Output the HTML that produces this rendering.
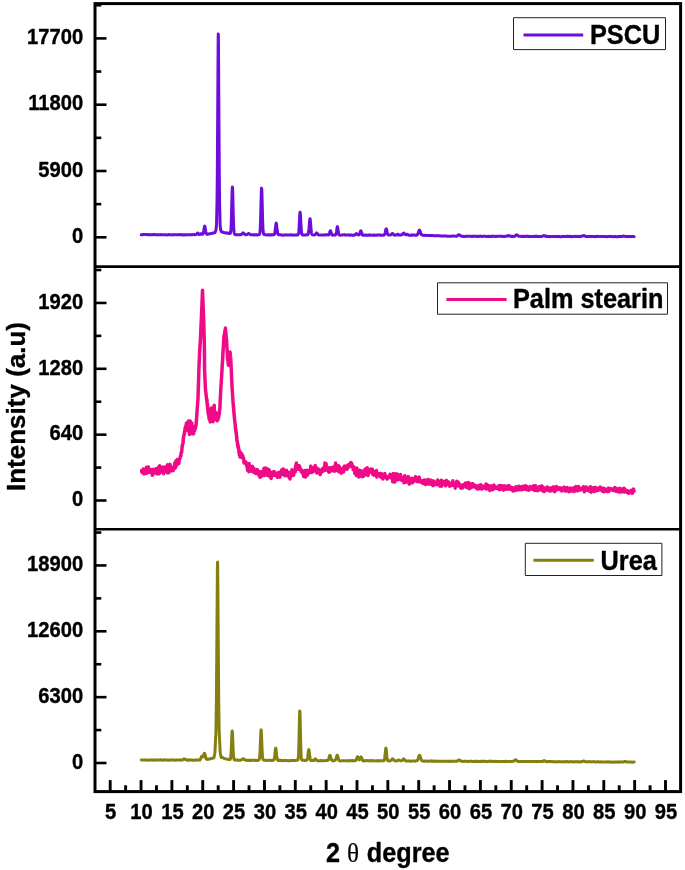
<!DOCTYPE html>
<html lang="en"><head><meta charset="utf-8"><title>XRD patterns</title>
<style>html,body{margin:0;padding:0;background:#fff;}svg{display:block}</style></head>
<body>
<svg width="685" height="870" viewBox="0 0 685 870" style="display:block">
<rect x="0" y="0" width="685" height="870" fill="#ffffff"/>
<polyline points="141.30,234.77 141.70,234.83 142.00,234.78 142.30,234.65 142.70,234.64 142.80,234.57 143.10,234.57 143.70,234.40 144.50,234.59 144.90,234.54 145.40,234.63 146.10,234.55 146.20,234.48 146.70,234.54 146.90,234.50 147.30,234.68 147.90,234.77 148.40,234.73 148.50,234.80 148.80,234.62 148.90,234.67 149.10,234.62 149.40,234.66 149.60,234.60 150.10,234.75 150.30,234.70 150.40,234.79 151.10,234.67 151.60,234.71 151.90,234.62 152.40,234.76 152.80,234.72 153.40,234.55 153.60,234.60 153.90,234.51 154.50,234.62 154.90,234.60 155.10,234.70 155.30,234.67 155.80,234.73 156.30,234.67 156.50,234.77 157.20,234.70 157.40,234.74 157.80,234.69 158.00,234.75 158.50,234.68 158.80,234.70 158.90,234.80 159.10,234.82 159.30,234.74 159.50,234.79 160.10,234.68 160.50,234.70 160.80,234.57 161.00,234.68 161.40,234.68 161.50,234.77 161.80,234.84 162.10,234.72 162.60,234.77 163.20,234.64 163.80,234.77 164.00,234.69 164.20,234.73 164.30,234.68 164.40,234.75 164.70,234.73 164.90,234.79 165.20,234.72 165.70,234.87 166.10,234.83 166.60,234.89 168.00,234.71 168.30,234.62 168.80,234.65 168.90,234.58 169.30,234.69 169.50,234.67 169.80,234.83 170.40,234.72 170.60,234.79 171.40,234.72 171.70,234.84 172.00,234.84 172.10,234.90 172.90,234.79 173.00,234.72 173.10,234.75 173.50,234.59 173.70,234.66 174.30,234.67 174.70,234.82 175.10,234.82 175.50,234.66 176.10,234.76 176.40,234.66 177.10,234.83 177.40,234.82 177.80,234.70 178.00,234.76 178.50,234.68 179.00,234.86 179.10,234.79 179.20,234.83 179.90,234.79 180.60,234.56 181.00,234.60 181.30,234.74 181.50,234.71 181.80,234.85 182.10,234.83 182.40,234.94 183.00,234.81 183.20,234.89 183.80,234.84 184.30,234.94 184.80,234.91 185.00,234.79 185.40,234.88 186.00,234.68 186.50,234.65 186.70,234.75 187.10,234.67 187.20,234.71 187.60,234.66 188.10,234.82 188.40,234.71 188.80,234.75 188.90,234.70 189.40,234.78 189.70,234.64 190.20,234.77 190.40,234.71 190.90,234.78 191.10,234.72 191.40,234.79 191.60,234.70 192.40,234.72 192.80,234.60 194.00,234.52 194.50,234.71 194.80,234.62 195.10,234.70 195.20,234.63 195.60,234.71 196.50,234.33 196.90,233.82 197.30,233.16 197.70,232.94 198.20,233.32 198.70,234.10 199.10,234.54 199.40,234.61 200.00,234.48 200.80,233.75 201.10,233.66 201.50,233.71 201.70,233.83 202.20,234.31 202.50,234.36 202.80,234.18 203.00,233.90 203.30,233.09 203.70,231.09 204.30,227.22 204.50,226.40 204.60,226.18 204.70,226.12 204.80,226.19 204.90,226.45 205.10,227.26 205.80,231.53 206.10,232.97 206.50,233.94 206.90,234.25 207.60,234.26 208.60,233.91 209.60,233.75 210.00,233.61 210.10,233.65 210.80,233.60 211.20,233.53 211.30,233.46 211.50,233.50 211.80,233.42 212.00,233.47 213.20,232.97 213.60,232.96 213.90,232.83 214.00,232.88 214.10,232.81 214.90,232.62 215.10,232.28 215.70,230.73 216.00,230.18 216.50,224.66 217.00,202.33 217.30,176.62 218.10,50.15 218.20,36.38 218.30,33.90 218.40,36.34 218.50,50.07 219.30,176.41 219.60,202.19 220.10,224.52 220.60,229.97 221.60,232.02 222.10,232.03 222.50,232.17 222.70,232.12 222.90,232.26 223.00,232.23 223.90,232.51 224.50,232.61 225.50,232.99 225.80,232.98 226.30,233.15 226.50,233.07 227.00,233.12 227.20,233.07 227.50,233.16 227.60,233.10 227.70,233.15 227.90,233.13 228.20,233.31 228.70,233.27 228.90,233.40 229.00,233.37 229.70,233.56 230.20,233.39 230.40,233.08 230.50,232.77 230.70,231.79 230.90,229.91 231.20,224.52 231.50,215.00 232.10,191.49 232.30,187.50 232.40,186.97 232.50,187.49 232.70,191.58 233.40,219.11 233.60,225.02 233.90,230.48 234.10,232.46 234.40,233.78 234.80,234.29 235.20,234.64 235.60,234.73 235.80,234.68 236.30,234.85 236.90,234.66 237.70,234.84 238.10,234.79 238.40,234.88 238.70,234.81 239.00,234.85 239.40,234.68 239.50,234.72 239.90,234.61 240.40,234.69 241.10,234.63 241.50,234.42 242.50,233.28 242.80,232.98 243.00,232.90 243.10,232.97 243.30,232.96 243.90,233.38 244.40,234.01 244.60,234.09 245.00,234.47 245.60,234.81 245.70,234.75 245.80,234.83 245.90,234.77 246.20,234.80 246.80,234.66 247.10,234.49 247.70,233.92 248.50,233.45 248.80,233.54 249.40,234.07 250.20,234.64 250.80,234.80 251.60,234.79 251.80,234.85 252.00,234.78 252.70,234.77 252.80,234.81 253.20,234.77 254.00,234.92 254.20,234.85 254.70,234.92 255.50,234.85 255.60,234.78 256.00,234.82 256.20,234.77 256.60,234.91 257.00,234.84 257.20,234.85 257.30,234.93 257.80,234.91 258.30,234.75 258.80,234.73 259.20,234.54 259.60,234.03 259.80,233.30 260.00,231.86 260.20,229.35 260.40,225.30 260.70,215.88 261.30,192.53 261.50,188.60 261.60,188.11 261.70,188.65 261.90,192.61 262.70,222.59 262.90,227.49 263.20,231.74 263.50,233.52 263.70,234.11 263.90,234.34 264.40,234.64 265.20,234.79 266.20,234.86 266.60,234.99 267.50,234.87 267.90,234.91 268.50,234.81 269.00,234.93 269.90,234.82 270.40,234.95 271.30,234.82 271.40,234.87 272.00,234.88 272.10,234.79 272.80,234.77 273.20,234.92 273.70,234.70 273.80,234.72 274.10,234.60 274.30,234.43 274.50,234.11 274.80,233.00 275.10,231.05 275.90,224.09 276.00,223.55 276.20,223.13 276.40,223.54 276.50,224.10 277.20,230.33 277.60,233.04 277.90,234.03 278.10,234.41 278.40,234.71 278.70,234.78 279.30,234.67 279.80,234.82 280.50,234.79 280.80,234.98 281.50,234.99 281.70,235.07 282.10,235.07 282.20,235.15 282.30,235.08 282.50,235.08 282.90,235.26 284.30,235.04 284.90,234.84 285.80,235.02 286.20,234.92 286.60,235.04 287.30,234.96 288.00,235.02 288.30,234.96 289.40,235.02 289.60,234.94 290.30,234.97 290.60,234.84 290.70,234.90 291.00,234.90 291.30,234.83 291.90,234.93 292.10,234.89 292.30,235.01 292.70,235.00 292.90,235.11 293.70,235.17 294.10,235.11 294.30,235.01 294.70,235.06 295.20,234.95 295.50,235.07 295.70,235.02 296.20,235.06 296.30,235.00 296.90,235.12 297.20,234.99 297.60,234.96 297.90,234.86 298.20,234.51 298.40,234.01 298.60,233.00 298.80,231.45 299.10,227.50 299.80,214.48 299.90,213.23 300.00,212.47 300.10,212.18 300.20,212.48 300.40,214.43 301.10,227.47 301.50,232.34 301.70,233.63 301.90,234.26 302.10,234.62 302.40,234.86 302.70,234.96 303.00,234.80 303.40,234.78 303.70,234.91 304.30,234.94 304.70,235.10 305.30,234.88 305.90,234.92 306.40,234.76 306.70,234.88 307.20,234.94 307.90,234.61 308.10,234.33 308.40,233.40 308.70,231.62 309.00,228.62 309.60,221.03 309.80,219.36 310.00,218.67 310.10,218.82 310.30,220.02 311.10,229.58 311.40,232.20 311.60,233.28 311.80,234.01 312.10,234.57 312.50,234.86 313.40,235.00 314.90,234.74 315.20,234.57 315.50,234.27 316.30,233.17 316.60,232.89 317.00,233.06 317.20,233.25 318.00,234.54 318.20,234.77 318.30,234.83 318.60,234.86 318.80,234.99 319.10,235.07 319.30,235.08 319.90,234.93 320.40,234.96 321.00,234.88 321.40,234.89 321.70,235.03 322.10,234.98 322.40,235.09 322.50,235.03 322.90,235.09 323.20,235.05 323.40,234.96 323.70,235.07 324.10,234.97 324.30,235.08 324.80,235.08 325.30,235.01 326.00,234.80 326.10,234.84 326.30,234.75 326.70,234.76 326.90,234.85 327.10,234.78 327.60,234.96 327.80,234.91 328.10,235.04 328.40,235.01 328.80,234.74 329.10,234.30 329.50,233.27 330.10,231.13 330.40,230.75 330.60,230.88 330.70,231.08 331.60,234.03 332.10,234.91 332.40,235.14 332.60,235.10 332.80,235.15 333.80,235.02 334.00,235.07 334.10,235.02 334.30,235.12 334.80,235.03 335.20,235.10 335.50,234.96 335.80,234.54 336.20,233.31 336.50,231.69 337.00,227.95 337.20,226.99 337.30,226.76 337.40,226.70 337.60,227.17 337.80,228.24 338.30,231.86 338.70,234.09 339.10,234.97 339.40,235.01 339.80,235.22 340.10,235.25 340.40,235.14 340.60,235.15 340.80,235.00 341.10,235.04 341.50,234.93 342.00,235.00 342.30,234.95 342.60,235.06 342.90,234.98 343.00,235.04 343.30,234.87 343.70,234.75 344.20,234.76 344.60,234.85 344.70,234.82 345.00,235.02 345.50,235.03 345.70,235.09 346.40,235.02 346.60,235.08 346.90,234.99 347.20,235.10 347.40,235.00 348.10,235.10 348.30,234.97 348.60,235.09 348.80,235.09 348.90,235.02 349.60,235.07 350.00,235.17 350.30,235.04 350.50,235.04 350.80,235.13 351.70,234.99 352.00,235.07 352.10,235.05 352.20,235.13 353.00,235.16 353.20,235.25 353.80,235.29 354.40,235.18 354.90,234.96 355.50,234.38 355.90,233.84 356.10,233.66 356.30,233.61 356.90,233.83 357.80,234.88 358.50,234.97 358.70,235.06 359.20,234.77 359.60,234.06 359.80,233.55 360.40,231.42 360.60,230.94 360.80,230.71 360.90,230.72 361.00,230.84 361.20,231.34 361.80,233.51 362.20,234.47 362.60,235.06 362.90,235.20 363.10,235.22 363.30,235.12 363.80,235.21 363.90,235.13 364.00,235.16 364.70,234.99 365.40,235.08 365.90,235.23 366.10,235.20 366.60,235.27 367.50,235.12 367.80,235.15 367.90,235.06 368.10,235.13 368.30,235.10 369.00,235.18 369.40,235.07 369.70,235.13 369.90,235.05 370.40,235.11 370.70,235.07 371.00,235.20 371.40,235.15 371.60,235.23 371.80,235.21 371.90,235.28 372.50,235.17 373.10,235.21 373.60,235.04 373.80,235.11 374.10,235.09 374.20,235.16 374.50,235.10 374.60,235.16 374.80,235.13 375.30,235.20 375.50,235.16 375.70,235.25 376.00,235.18 376.30,235.25 376.70,235.10 377.30,234.98 377.70,235.03 378.00,234.85 378.70,235.06 379.50,234.99 380.80,235.14 381.10,235.08 381.60,235.25 382.60,235.14 382.90,235.21 383.00,235.13 383.20,235.20 383.40,235.18 383.80,235.08 384.30,234.81 384.70,234.22 385.10,232.87 385.80,229.64 386.00,229.06 386.20,228.84 386.40,229.04 386.60,229.60 387.50,233.66 387.70,234.22 387.90,234.55 388.20,234.86 388.70,234.97 388.90,235.08 389.80,234.89 390.30,235.00 390.70,234.91 391.00,234.75 391.20,234.53 391.50,234.44 392.00,233.78 392.20,233.60 392.50,233.45 392.70,233.48 392.90,233.77 393.20,233.95 393.70,234.64 394.20,235.07 394.70,235.15 395.50,235.05 396.30,235.11 396.40,234.99 396.90,234.70 397.10,234.47 397.70,234.29 398.00,234.34 398.80,234.98 399.10,235.05 399.50,235.11 399.60,235.04 400.10,235.06 400.20,234.97 400.30,235.01 400.60,234.94 401.30,234.92 401.50,234.81 401.90,234.79 402.10,234.68 403.30,233.30 403.80,233.02 404.10,233.15 405.00,234.32 405.30,234.50 405.50,234.74 405.80,234.83 406.20,234.76 406.70,234.39 407.10,234.24 407.40,234.28 407.70,234.40 408.10,234.80 408.60,235.14 409.40,235.39 410.10,235.33 410.40,235.20 411.10,235.09 411.80,235.14 411.90,235.09 412.50,235.18 412.80,235.14 413.50,234.88 413.80,234.96 414.00,234.88 414.40,235.04 414.50,235.03 414.70,235.13 414.90,235.11 415.40,235.29 415.80,235.32 416.10,235.23 416.30,235.24 416.40,235.14 416.50,235.20 416.60,235.18 417.20,234.89 417.70,234.31 418.10,233.52 419.00,230.78 419.20,230.32 419.40,230.14 419.70,230.27 419.90,230.67 420.90,233.68 421.30,234.39 421.80,234.88 422.60,235.02 423.10,235.34 424.30,235.52 425.20,235.27 425.60,235.29 425.70,235.23 425.80,235.27 425.90,235.23 427.70,235.47 427.80,235.41 428.00,235.43 428.60,235.59 429.00,235.48 429.40,235.48 429.70,235.60 430.20,235.46 430.50,235.59 431.20,235.62 431.50,235.53 431.90,235.64 432.50,235.58 432.60,235.49 433.00,235.62 433.90,235.63 434.30,235.74 435.20,235.61 435.90,235.64 436.00,235.70 436.20,235.64 436.80,235.79 437.50,235.67 437.60,235.72 437.70,235.63 437.90,235.72 438.40,235.67 438.60,235.71 438.70,235.64 439.30,235.76 439.40,235.83 439.60,235.79 440.40,235.90 441.60,235.90 441.80,235.84 442.50,235.92 442.90,236.03 443.40,236.04 443.80,235.93 444.20,236.05 444.70,235.94 445.00,235.95 445.30,236.05 445.90,235.96 446.00,236.03 446.60,236.15 446.80,236.10 447.20,236.20 447.50,236.16 448.10,236.22 448.30,236.17 448.60,236.24 448.80,236.18 449.30,236.29 449.80,236.20 450.60,236.31 451.40,236.15 451.60,236.24 451.80,236.18 452.00,236.23 452.30,236.05 453.10,236.07 453.70,235.94 454.00,236.07 454.50,236.02 455.10,236.12 455.30,236.22 455.80,236.13 456.00,236.20 456.40,236.20 456.80,236.09 457.20,235.88 457.90,235.40 458.30,234.93 458.60,234.69 458.90,234.65 459.50,234.82 460.60,235.79 461.10,236.05 461.40,236.02 462.00,236.25 462.50,236.18 463.80,236.47 464.20,236.50 464.40,236.42 464.70,236.40 464.80,236.45 465.00,236.38 465.20,236.42 465.50,236.24 466.10,236.34 466.50,236.25 466.70,236.35 466.90,236.25 467.40,236.34 467.90,236.25 468.20,236.32 468.40,236.27 468.70,236.31 468.80,236.26 469.30,236.32 470.30,236.19 470.50,236.28 471.10,236.33 471.20,236.29 471.30,236.39 471.60,236.50 471.70,236.45 471.80,236.50 472.20,236.36 472.90,236.43 473.30,236.29 473.40,236.34 473.90,236.30 474.50,236.14 475.00,236.22 475.20,236.16 476.20,236.42 476.70,236.34 477.30,236.39 477.90,236.28 478.10,236.31 478.20,236.38 478.80,236.40 479.40,236.33 480.10,236.11 480.30,236.16 480.50,236.09 482.10,236.48 482.70,236.34 483.00,236.38 483.30,236.29 484.00,236.25 484.60,236.34 485.60,236.31 486.20,236.40 487.30,236.43 487.70,236.38 487.80,236.42 488.30,236.30 488.70,236.37 488.90,236.32 489.10,236.41 489.30,236.36 489.40,236.44 489.60,236.43 489.80,236.50 490.30,236.43 490.70,236.45 490.90,236.39 491.00,236.45 491.50,236.34 491.70,236.42 491.80,236.36 492.00,236.40 492.10,236.34 492.60,236.33 492.80,236.25 493.10,236.29 493.40,236.21 493.50,236.28 494.10,236.27 494.40,236.35 494.70,236.31 495.50,236.41 495.70,236.49 496.20,236.42 496.30,236.35 496.80,236.40 497.30,236.30 497.40,236.22 497.60,236.31 497.90,236.27 498.00,236.35 498.80,236.32 499.10,236.37 499.30,236.32 499.50,236.37 499.70,236.28 500.00,236.26 500.60,236.34 500.90,236.21 501.20,236.21 501.30,236.28 501.70,236.31 501.90,236.23 502.60,236.50 502.80,236.52 503.00,236.45 503.70,236.59 503.80,236.53 503.90,236.56 504.10,236.44 504.70,236.40 505.30,236.20 505.60,236.22 505.70,236.29 505.90,236.19 506.70,236.27 507.20,236.06 507.40,235.87 507.60,235.86 508.30,235.48 508.60,235.50 509.20,235.79 509.40,235.82 509.70,236.01 510.10,236.11 510.30,236.31 510.80,236.35 511.20,236.23 511.50,236.29 511.70,236.41 512.00,236.29 512.20,236.30 513.20,236.51 513.40,236.43 513.80,236.49 514.50,236.38 515.20,235.94 515.50,235.59 516.20,234.98 516.60,234.82 516.80,234.84 517.00,235.01 517.40,235.18 518.50,236.15 518.70,236.16 519.20,236.34 519.70,236.33 520.20,236.17 520.30,236.23 520.60,236.20 521.30,236.43 521.40,236.38 521.60,236.44 521.70,236.40 521.90,236.44 522.00,236.38 522.30,236.47 522.40,236.39 522.90,236.34 523.20,236.40 524.00,236.35 524.10,236.45 524.50,236.46 524.70,236.36 525.20,236.54 525.70,236.47 525.90,236.30 526.00,236.36 526.20,236.30 526.40,236.36 526.90,236.23 527.30,236.23 527.50,236.36 527.70,236.32 527.90,236.44 528.30,236.36 528.50,236.46 528.80,236.38 529.00,236.48 529.40,236.55 529.60,236.41 529.70,236.49 530.00,236.52 531.10,236.45 531.20,236.53 531.80,236.52 532.20,236.60 532.40,236.53 532.50,236.58 532.80,236.56 533.10,236.46 533.50,236.51 533.70,236.42 534.00,236.39 534.30,236.43 534.70,236.37 534.80,236.43 535.20,236.32 535.60,236.32 535.70,236.41 536.20,236.35 536.40,236.42 536.50,236.35 537.30,236.49 537.60,236.41 538.20,236.48 538.50,236.41 538.70,236.46 538.90,236.37 539.30,236.46 539.40,236.43 539.50,236.49 539.90,236.45 540.00,236.49 540.10,236.43 540.80,236.56 541.40,236.39 542.20,236.36 542.50,236.11 542.90,235.98 543.20,235.78 543.60,235.70 543.90,235.55 544.10,235.53 544.60,235.79 545.00,236.10 545.30,236.10 545.90,236.40 546.10,236.39 546.30,236.26 546.50,236.22 547.00,236.39 547.70,236.38 548.20,236.56 548.60,236.55 549.00,236.65 549.50,236.61 549.70,236.70 550.10,236.56 550.30,236.62 550.70,236.46 550.90,236.52 551.70,236.38 552.80,236.58 553.10,236.55 553.40,236.61 553.80,236.52 553.90,236.42 554.20,236.50 554.60,236.38 554.80,236.45 555.00,236.40 555.20,236.47 555.30,236.44 555.60,236.59 555.90,236.53 556.30,236.64 556.40,236.57 557.00,236.60 557.30,236.50 557.60,236.56 558.00,236.41 558.40,236.46 558.50,236.42 558.70,236.45 558.80,236.54 559.00,236.57 559.10,236.50 559.60,236.71 560.10,236.74 560.20,236.80 560.50,236.66 560.80,236.75 561.20,236.69 561.60,236.72 561.90,236.55 562.10,236.65 562.70,236.44 563.20,236.44 563.40,236.36 564.20,236.48 564.60,236.37 565.00,236.40 565.30,236.53 565.90,236.53 566.10,236.60 566.90,236.44 567.10,236.35 567.90,236.34 568.10,236.45 568.90,236.48 569.10,236.40 569.20,236.47 569.40,236.33 569.60,236.42 569.80,236.32 570.30,236.37 570.50,236.46 570.60,236.41 570.90,236.49 571.20,236.69 572.00,236.70 572.20,236.57 572.40,236.62 572.70,236.48 573.70,236.40 573.90,236.46 574.10,236.37 574.70,236.49 575.20,236.49 575.50,236.36 575.70,236.47 576.00,236.49 576.30,236.42 576.70,236.55 576.90,236.51 577.10,236.57 578.20,236.33 578.60,236.38 579.10,236.63 579.60,236.66 580.30,236.54 580.50,236.38 580.80,236.26 580.90,236.31 581.20,236.30 582.50,235.98 583.10,235.63 583.40,235.68 583.70,235.59 584.60,235.75 584.80,235.97 585.10,236.05 585.80,236.46 586.20,236.58 586.60,236.50 586.90,236.54 587.10,236.48 587.50,236.53 587.80,236.40 588.50,236.62 588.80,236.63 589.20,236.47 589.70,236.59 590.50,236.50 591.30,236.65 591.90,236.46 592.20,236.50 592.50,236.46 592.70,236.51 593.10,236.44 593.80,236.59 594.60,236.53 594.80,236.61 594.90,236.57 595.00,236.64 595.50,236.55 595.60,236.61 595.70,236.55 595.80,236.59 596.20,236.43 596.40,236.45 597.30,236.27 597.50,236.27 598.30,236.51 598.80,236.51 599.70,236.62 600.20,236.52 600.90,236.55 601.10,236.47 601.70,236.55 602.10,236.51 602.30,236.59 602.80,236.62 603.20,236.50 604.40,236.53 604.80,236.42 605.00,236.50 605.90,236.48 606.50,236.79 607.10,236.67 607.40,236.72 608.20,236.39 608.40,236.36 608.80,236.46 609.00,236.41 609.70,236.46 610.00,236.55 610.90,236.34 611.30,236.46 611.60,236.42 612.20,236.52 612.60,236.69 613.10,236.65 613.20,236.69 613.50,236.62 613.60,236.67 614.80,236.43 615.00,236.51 615.30,236.47 615.50,236.60 615.60,236.57 616.30,236.73 616.50,236.74 616.70,236.63 617.70,236.72 618.10,236.58 618.40,236.73 618.70,236.71 618.90,236.61 619.90,236.55 620.70,236.37 621.50,236.47 622.20,236.40 622.70,236.30 623.50,236.04 623.80,236.15 623.90,236.12 624.50,236.20 625.10,236.45 625.80,236.47 626.10,236.39 626.20,236.46 626.70,236.44 627.00,236.58 627.60,236.52 627.70,236.59 628.10,236.56 628.40,236.63 629.00,236.51 629.30,236.63 630.20,236.50 630.70,236.53 631.10,236.47 631.60,236.56 631.90,236.50 632.20,236.59 632.30,236.53 633.60,236.60 633.90,236.55 634.00,236.62 634.20,236.63" fill="none" stroke="#6e0cdc" stroke-width="3.0" stroke-linejoin="round" stroke-linecap="round" />
<polyline points="141.30,759.91 142.00,759.85 142.70,760.06 143.00,759.96 143.80,760.16 144.10,760.09 144.20,760.15 144.40,760.08 144.70,760.10 145.20,760.03 145.40,760.09 145.50,760.02 145.70,760.09 145.90,759.98 146.10,760.09 146.60,760.03 146.80,760.08 147.00,760.02 147.30,760.04 147.70,760.19 148.20,760.14 148.30,760.21 148.60,760.18 148.90,760.24 149.30,760.02 149.70,760.00 149.90,760.07 150.20,759.91 150.30,759.96 150.70,759.88 151.00,759.93 151.10,759.86 151.40,759.97 151.80,759.99 151.90,760.06 152.20,759.91 152.90,760.16 153.50,760.03 154.10,760.15 154.90,759.93 155.10,760.00 155.50,759.91 155.60,759.99 155.70,759.93 156.20,759.95 156.40,759.89 156.60,759.99 157.10,760.03 157.60,759.92 157.80,759.99 158.00,759.95 158.10,760.03 158.50,759.95 158.60,760.03 158.90,760.08 159.20,760.02 159.40,760.07 159.80,759.89 160.10,759.89 160.40,759.78 160.70,759.88 161.00,759.87 161.60,760.05 162.10,760.03 162.80,760.15 163.40,760.12 163.50,760.06 163.70,760.09 164.40,759.87 164.80,759.87 165.30,760.01 165.60,759.93 166.10,760.05 166.20,759.99 166.30,760.06 166.70,760.08 166.90,760.01 167.60,760.20 167.90,760.16 168.00,760.07 168.40,760.16 169.00,760.17 169.30,760.04 169.60,760.00 169.70,760.05 170.10,759.92 170.40,759.94 170.60,759.88 171.60,760.03 171.80,760.01 171.90,759.93 172.30,759.99 172.50,759.94 172.70,760.06 172.90,760.07 173.10,759.99 173.20,760.06 173.50,760.06 173.60,760.12 174.20,760.15 174.60,760.08 174.90,760.20 175.40,760.22 175.80,760.08 176.30,760.13 176.50,760.09 176.60,760.00 177.60,760.12 177.80,760.01 178.40,760.09 178.70,759.98 179.20,760.10 179.70,760.13 180.00,760.01 180.50,760.12 180.90,760.03 181.10,760.11 181.70,760.16 182.60,759.95 183.80,758.99 184.30,758.88 184.90,759.06 185.20,759.21 185.90,759.72 187.00,760.20 187.30,760.09 187.80,760.19 188.30,760.11 188.50,760.00 188.60,760.08 188.70,760.02 189.00,760.13 189.20,760.05 189.40,760.06 189.60,759.95 190.00,759.93 190.20,760.02 190.70,759.89 191.50,760.04 192.10,760.01 192.30,760.17 192.60,760.24 192.80,760.20 193.30,760.30 193.80,760.30 194.10,760.16 195.00,760.03 195.30,760.12 195.50,760.07 195.80,760.14 195.90,760.09 196.20,760.18 196.60,760.16 196.90,760.07 197.60,760.03 198.30,759.83 199.30,759.94 199.90,759.93 200.20,759.57 200.60,758.87 201.40,756.75 201.60,756.39 201.80,756.31 202.10,756.38 202.40,756.66 202.70,756.81 202.90,756.77 203.10,756.57 203.40,755.80 204.00,753.71 204.20,753.37 204.40,753.22 204.60,753.38 205.00,754.45 205.80,757.79 206.10,758.65 206.30,758.99 206.80,759.34 207.20,759.41 207.90,759.25 208.10,759.34 208.30,759.31 209.10,759.03 209.60,758.98 209.80,758.85 210.30,758.87 210.70,758.78 211.10,758.56 211.50,758.59 212.10,758.41 212.20,758.29 212.70,758.25 213.00,758.06 213.60,757.82 213.90,757.85 214.90,752.96 215.90,732.74 216.00,728.67 216.40,700.39 217.40,568.07 217.50,562.17 217.60,562.13 217.70,568.04 218.70,700.34 219.10,728.54 219.20,732.53 220.20,752.53 221.10,757.18 221.20,757.42 221.50,757.44 221.70,757.53 222.30,757.54 223.00,757.77 223.80,758.25 224.40,758.53 225.00,758.66 225.40,758.67 225.80,758.85 227.40,759.23 227.50,759.20 227.70,759.27 227.90,759.18 228.00,759.26 228.30,759.30 228.40,759.38 228.50,759.33 228.80,759.41 229.10,759.38 229.20,759.44 229.40,759.39 229.60,759.54 229.80,759.48 229.90,759.55 230.20,759.29 230.30,759.12 230.50,758.45 230.70,757.31 231.00,754.04 231.30,748.21 231.90,733.75 232.00,732.20 232.10,731.31 232.20,731.01 232.30,731.34 232.50,733.75 233.20,750.58 233.50,755.51 233.70,757.53 233.90,758.67 234.10,759.32 234.50,759.91 235.00,760.02 235.60,759.98 235.90,760.09 236.70,760.04 237.30,760.15 237.40,760.08 238.70,760.32 238.90,760.24 239.20,760.31 240.40,760.18 240.60,760.21 241.70,759.72 242.60,758.99 243.20,758.71 243.40,758.72 243.70,758.92 244.90,760.00 245.40,760.14 245.50,760.09 246.00,760.16 246.50,760.13 246.80,760.24 247.40,760.19 247.70,760.31 247.80,760.28 248.00,760.40 248.50,760.33 248.70,760.40 249.40,760.33 249.50,760.40 249.60,760.33 250.20,760.40 250.40,760.35 250.70,760.47 251.80,760.36 251.90,760.29 252.20,760.27 252.40,760.14 252.90,760.20 253.40,760.20 253.50,760.15 253.60,760.22 253.90,760.21 254.20,760.35 254.40,760.28 254.80,760.27 255.40,760.47 255.70,760.40 256.50,760.59 257.00,760.41 257.40,760.44 257.90,760.32 258.30,760.12 258.70,760.09 259.00,759.86 259.10,759.69 259.40,758.82 259.60,757.54 259.80,755.48 260.10,750.27 260.80,732.70 261.00,730.16 261.10,729.85 261.20,730.24 261.40,732.84 262.10,750.37 262.40,755.60 262.60,757.60 262.80,758.77 263.10,759.60 263.30,759.86 263.70,760.06 264.20,760.12 264.50,760.23 265.00,760.10 265.20,760.11 266.20,760.34 266.90,760.61 268.80,760.16 268.90,760.20 269.30,760.17 269.40,760.22 269.60,760.18 269.90,760.32 270.00,760.27 270.80,760.47 271.00,760.47 271.10,760.40 271.30,760.44 271.60,760.38 272.00,760.40 272.70,760.28 273.10,760.33 273.50,760.24 273.80,759.98 274.10,759.33 274.40,757.97 274.70,755.72 275.30,749.82 275.50,748.48 275.60,748.15 275.70,748.03 275.80,748.15 275.90,748.51 276.10,749.81 276.70,755.68 277.10,758.60 277.30,759.43 277.50,759.94 277.70,760.23 278.00,760.43 279.10,760.48 279.70,760.36 279.80,760.41 279.90,760.35 280.20,760.37 280.40,760.30 280.60,760.38 280.80,760.34 281.00,760.46 282.10,760.68 282.70,760.52 283.20,760.59 283.30,760.53 283.50,760.58 283.70,760.50 283.90,760.58 284.60,760.61 284.90,760.53 285.00,760.59 285.20,760.49 286.00,760.55 286.50,760.42 287.00,760.56 287.40,760.56 287.80,760.73 288.00,760.74 288.20,760.86 288.60,760.76 288.90,760.80 289.20,760.71 289.70,760.71 289.90,760.61 290.10,760.63 290.60,760.47 292.40,760.57 292.60,760.48 293.40,760.37 293.90,760.38 294.30,760.56 294.50,760.58 294.70,760.49 295.30,760.39 295.60,760.49 296.10,760.26 296.60,760.32 297.00,760.26 297.60,760.05 297.80,759.87 298.00,759.47 298.20,758.61 298.40,756.74 298.60,753.29 298.90,744.01 299.50,716.82 299.70,711.73 299.80,711.01 299.90,711.64 300.10,716.70 300.70,743.78 300.90,750.58 301.10,755.04 301.30,757.65 301.50,759.01 301.70,759.63 301.90,759.98 302.20,760.17 302.40,760.21 302.70,760.13 303.30,760.28 303.40,760.22 304.00,760.27 304.60,760.42 304.90,760.35 305.10,760.48 305.30,760.40 305.40,760.45 305.70,760.43 306.40,760.19 306.60,760.26 307.00,759.93 307.40,758.92 307.60,757.97 308.40,751.29 308.60,750.09 308.80,749.58 308.90,749.69 309.10,750.51 309.80,756.59 310.10,758.58 310.30,759.39 310.60,760.15 310.80,760.38 311.30,760.62 311.70,760.49 312.10,760.58 312.80,760.49 313.40,760.56 313.70,760.47 315.00,759.00 315.40,758.83 315.80,759.18 316.70,760.39 317.30,760.73 317.70,760.86 318.00,760.73 318.30,760.80 318.60,760.74 318.90,760.81 319.70,760.73 319.90,760.63 320.60,760.61 320.70,760.66 321.00,760.56 321.30,760.70 321.50,760.71 321.90,760.60 322.40,760.59 322.70,760.67 323.20,760.64 323.30,760.72 323.80,760.82 324.90,760.72 325.00,760.62 325.50,760.52 327.10,760.60 327.50,760.45 327.60,760.48 327.90,760.31 328.20,760.02 328.50,759.45 328.70,758.95 329.60,755.66 329.80,755.35 330.00,755.31 330.20,755.62 330.40,756.13 331.20,759.11 331.50,759.81 331.80,760.29 332.30,760.59 332.50,760.58 332.60,760.67 332.90,760.74 333.10,760.77 333.60,760.66 334.00,760.69 334.30,760.52 334.90,760.37 335.40,760.05 335.50,759.91 336.00,758.77 336.80,755.80 337.00,755.35 337.20,755.18 337.40,755.31 337.70,756.12 338.40,758.92 338.80,759.91 339.10,760.40 339.30,760.60 339.70,760.80 340.60,760.92 340.90,760.83 341.20,760.91 341.80,760.71 342.20,760.66 342.50,760.71 343.00,760.66 343.80,760.74 344.90,760.70 345.40,760.81 345.70,760.80 345.80,760.72 346.10,760.68 346.50,760.84 347.20,760.88 347.40,760.83 347.80,760.89 347.90,760.82 348.00,760.86 348.60,760.71 349.10,760.77 349.60,760.69 350.20,760.71 350.70,760.81 351.00,760.74 351.20,760.62 351.30,760.65 351.90,760.49 352.00,760.55 352.20,760.44 352.30,760.52 352.40,760.48 352.60,760.53 352.90,760.73 353.00,760.70 353.80,760.94 354.00,760.84 354.30,760.85 354.60,760.75 355.00,760.73 355.70,760.43 356.10,759.97 356.60,758.93 357.20,757.14 357.50,756.67 357.70,756.65 358.00,757.04 358.90,759.45 359.20,759.86 359.30,759.90 359.60,759.77 359.80,759.45 360.70,757.24 361.00,756.87 361.20,756.89 361.70,757.88 362.40,759.81 362.90,760.64 363.50,760.96 363.80,760.84 364.30,760.92 364.40,760.81 365.00,760.65 365.60,760.69 365.80,760.64 365.90,760.53 366.10,760.62 366.50,760.54 366.60,760.60 367.10,760.61 367.60,760.71 367.80,760.68 368.20,760.82 368.60,760.70 368.80,760.76 369.20,760.65 369.50,760.64 369.70,760.53 370.10,760.55 370.40,760.69 370.50,760.66 370.70,760.75 371.40,760.88 371.70,760.85 371.80,760.90 372.20,760.86 372.30,760.91 372.40,760.82 372.60,760.87 372.80,760.80 372.90,760.85 373.70,760.64 373.90,760.73 374.00,760.69 375.40,760.89 376.20,760.79 376.40,760.87 377.10,760.87 377.30,760.76 377.60,760.84 377.70,760.93 378.10,760.85 378.40,760.86 378.50,760.92 378.70,760.82 379.10,760.93 379.30,760.84 379.40,760.70 379.50,760.76 380.00,760.69 380.20,760.70 380.50,760.85 381.00,760.74 381.30,760.82 382.50,760.71 382.80,760.85 383.00,760.78 383.30,760.79 383.90,760.52 384.20,760.26 384.40,759.79 384.60,758.88 385.00,755.79 385.60,749.45 385.80,748.27 385.90,748.12 386.00,748.20 386.20,749.35 386.90,756.75 387.30,759.36 387.50,760.04 387.90,760.70 388.20,760.86 388.90,761.04 389.20,760.96 389.50,761.00 389.60,760.93 390.00,760.89 390.70,760.59 390.90,760.60 391.30,760.17 392.10,759.12 392.50,758.83 392.70,758.79 393.10,759.15 393.80,760.07 394.20,760.44 395.40,760.98 396.50,760.98 397.50,760.45 397.70,760.23 398.20,759.99 398.60,759.95 398.90,760.02 399.30,760.36 400.20,760.73 400.40,760.71 400.60,760.82 401.00,760.75 401.50,760.77 402.20,760.34 402.60,759.93 403.20,759.04 403.60,758.86 404.10,759.12 405.00,760.33 405.80,760.93 405.90,760.92 406.10,761.04 406.40,761.09 406.70,761.04 407.10,761.12 407.70,760.92 408.20,760.86 408.50,760.92 408.80,760.86 409.40,761.01 409.70,761.00 409.90,761.10 410.20,761.08 410.40,761.20 410.60,761.23 411.50,761.18 411.60,761.09 412.30,761.04 413.30,761.09 413.90,761.02 414.00,761.08 414.50,761.05 415.20,761.15 416.00,760.83 416.30,760.81 416.50,760.67 416.80,760.71 417.40,760.35 417.70,759.88 418.20,758.69 419.10,755.62 419.40,755.24 419.70,755.30 419.90,755.58 420.30,756.61 421.00,759.05 421.50,760.20 422.00,760.75 422.30,760.82 422.60,761.00 423.10,761.04 423.60,761.20 424.70,761.17 425.10,761.02 425.30,761.06 425.70,760.95 426.40,760.89 428.10,761.26 429.00,761.21 429.80,761.00 430.10,761.05 430.60,760.92 430.90,761.05 431.40,761.03 431.60,761.13 431.90,761.04 432.10,761.16 432.30,761.17 432.50,761.07 432.80,761.10 433.10,761.22 433.40,761.16 433.60,761.22 434.00,761.13 434.50,761.23 434.70,761.12 435.10,761.17 435.40,761.09 436.40,761.26 436.80,761.17 437.30,761.33 437.90,761.21 438.60,761.34 439.00,761.17 439.30,761.24 439.90,761.14 440.70,761.30 441.10,761.25 441.30,761.35 441.90,761.42 442.10,761.35 442.50,761.38 443.50,761.22 443.60,761.15 443.70,761.23 443.80,761.19 444.00,761.24 444.20,761.18 444.40,761.25 445.20,761.23 445.30,761.29 445.70,761.21 445.90,761.24 446.00,761.16 446.60,761.23 446.80,761.17 446.90,761.24 447.40,761.20 447.70,761.36 447.90,761.34 448.20,761.45 448.70,761.42 448.90,761.31 449.10,761.40 449.70,761.19 450.00,761.16 450.40,761.17 450.80,761.28 451.40,761.30 451.50,761.24 452.00,761.38 452.60,761.24 453.20,761.34 453.40,761.19 453.90,761.13 454.30,761.21 454.90,761.17 455.20,761.29 455.30,761.23 455.70,761.33 455.90,761.28 456.50,761.32 456.90,761.16 457.10,761.17 457.60,760.84 458.00,760.39 458.80,759.95 459.10,759.95 459.20,759.89 460.10,760.50 460.80,761.11 461.00,761.21 461.20,761.19 461.30,761.27 461.80,761.29 462.40,761.27 462.50,761.18 463.10,761.39 463.70,761.46 464.30,761.36 464.50,761.41 464.70,761.26 465.00,761.22 465.30,761.30 465.60,761.23 465.90,761.33 466.10,761.29 466.40,761.36 467.00,761.26 467.40,761.44 468.50,761.49 469.00,761.44 469.10,761.36 469.60,761.27 469.70,761.33 469.90,761.32 470.70,761.16 471.30,761.27 471.90,761.29 472.20,761.41 472.80,761.46 473.10,761.39 473.40,761.49 473.80,761.36 474.10,761.43 474.40,761.35 474.80,761.38 475.00,761.30 475.40,761.45 476.20,761.36 476.50,761.43 476.60,761.37 476.80,761.43 476.90,761.37 477.10,761.38 477.80,761.49 478.10,761.48 478.20,761.43 478.60,761.50 478.80,761.42 479.40,761.46 479.80,761.37 480.60,761.43 480.80,761.34 481.20,761.40 481.40,761.36 481.50,761.41 482.00,761.37 482.40,761.46 482.50,761.39 482.60,761.44 482.90,761.36 483.10,761.46 483.90,761.30 484.10,761.19 484.20,761.28 484.40,761.23 484.70,761.30 485.00,761.22 485.50,761.41 487.00,761.64 487.30,761.54 487.50,761.60 487.90,761.48 488.40,761.42 488.80,761.27 489.10,761.32 489.50,761.27 490.20,761.38 490.30,761.31 490.60,761.40 490.90,761.37 491.20,761.46 491.90,761.30 492.40,761.31 492.90,761.37 493.10,761.44 493.40,761.40 493.70,761.52 494.30,761.45 494.50,761.51 494.80,761.36 495.00,761.46 495.20,761.37 495.60,761.41 495.80,761.36 496.10,761.43 496.30,761.38 496.60,761.41 496.70,761.35 496.90,761.44 497.30,761.39 497.60,761.57 497.90,761.45 498.10,761.50 498.30,761.46 498.50,761.58 499.30,761.51 499.50,761.61 499.60,761.58 500.00,761.67 500.30,761.60 500.40,761.50 500.70,761.52 501.20,761.39 501.30,761.49 501.40,761.43 501.70,761.43 502.20,761.55 502.40,761.46 502.50,761.52 502.60,761.46 502.80,761.51 503.00,761.47 503.10,761.54 503.70,761.53 504.10,761.67 504.60,761.60 504.70,761.65 505.50,761.47 505.70,761.35 506.00,761.40 506.60,761.36 506.70,761.28 507.00,761.40 507.90,761.55 508.20,761.47 508.40,761.51 508.60,761.40 508.80,761.47 509.30,761.36 509.80,761.38 511.00,761.60 511.10,761.50 512.10,761.49 512.30,761.33 513.10,761.35 513.60,761.22 514.10,760.96 515.10,759.99 515.50,759.82 515.70,759.80 516.10,760.06 516.30,760.10 516.50,760.39 517.10,760.92 517.60,761.27 517.90,761.36 518.10,761.50 518.20,761.46 518.90,761.66 519.10,761.65 519.80,761.40 520.20,761.54 520.60,761.44 520.90,761.52 521.20,761.47 521.50,761.61 521.90,761.44 522.50,761.43 523.00,761.53 523.20,761.38 523.60,761.49 524.00,761.39 525.00,761.67 525.10,761.67 525.30,761.50 525.70,761.62 526.80,761.47 527.00,761.58 527.20,761.60 527.70,761.43 528.20,761.41 528.60,761.49 528.80,761.36 528.90,761.43 529.70,761.57 530.20,761.48 530.50,761.70 530.60,761.61 531.00,761.54 531.10,761.58 531.20,761.49 531.80,761.53 532.10,761.42 533.00,761.56 533.20,761.51 533.30,761.58 533.60,761.50 533.80,761.56 534.10,761.50 534.30,761.52 534.80,761.38 535.30,761.47 535.50,761.43 536.00,761.56 536.20,761.50 536.60,761.66 537.60,761.62 537.70,761.52 537.80,761.56 538.50,761.49 538.70,761.54 538.90,761.46 539.30,761.47 539.40,761.57 539.70,761.62 539.90,761.62 540.10,761.52 540.80,761.59 541.20,761.41 541.40,761.40 541.90,761.54 542.50,761.32 542.70,761.39 543.00,761.25 543.60,760.74 544.40,760.61 545.20,761.18 545.90,761.45 546.10,761.61 546.30,761.65 547.50,761.68 548.00,761.49 548.20,761.47 548.30,761.54 548.70,761.59 549.20,761.54 549.30,761.61 549.90,761.69 550.00,761.61 550.10,761.67 550.30,761.61 550.60,761.63 551.30,761.51 551.50,761.60 551.60,761.55 552.10,761.61 552.50,761.76 552.80,761.69 553.10,761.74 553.20,761.70 553.40,761.78 553.60,761.65 553.80,761.74 554.20,761.59 554.50,761.69 554.90,761.70 555.00,761.64 555.30,761.76 555.50,761.75 555.60,761.83 556.20,761.89 556.80,761.87 557.30,761.72 558.40,761.62 558.60,761.52 558.90,761.64 559.20,761.62 559.50,761.70 559.80,761.73 560.10,761.67 560.30,761.77 560.80,761.66 561.20,761.75 561.50,761.68 561.80,761.73 562.10,761.63 562.50,761.83 563.10,761.73 563.50,761.82 563.60,761.90 563.90,761.88 564.10,761.73 564.40,761.66 565.00,761.72 565.30,761.60 565.50,761.70 565.60,761.63 566.10,761.76 566.50,761.71 566.70,761.61 567.00,761.74 567.20,761.64 567.30,761.73 567.50,761.78 567.90,761.81 568.30,762.02 569.50,761.78 569.80,761.80 570.00,761.66 570.30,761.59 570.90,761.68 571.50,761.65 571.80,761.78 572.40,761.85 573.50,761.81 573.70,761.88 573.90,761.76 574.10,761.81 574.30,761.69 574.40,761.73 574.60,761.65 575.40,761.72 575.50,761.79 575.80,761.64 576.00,761.72 576.10,761.67 576.50,761.84 577.20,761.75 577.70,761.96 577.90,761.89 578.00,761.92 578.50,761.75 579.00,761.82 579.20,761.75 579.60,761.85 579.80,761.82 580.20,761.96 580.60,761.95 580.90,761.86 581.00,761.75 581.20,761.76 581.50,761.65 581.90,761.42 582.10,761.42 582.40,761.26 582.70,761.24 583.20,761.04 583.50,761.00 584.30,761.22 585.00,761.63 585.20,761.69 585.70,761.67 586.00,761.79 586.40,761.77 586.80,761.87 587.40,761.83 587.70,761.74 588.00,761.78 588.20,761.70 588.50,761.69 589.20,761.72 589.40,761.84 589.50,761.78 590.10,761.84 590.40,761.79 590.60,761.82 590.70,761.91 590.90,761.91 591.10,761.81 591.20,761.87 592.00,761.72 592.10,761.78 592.40,761.70 593.30,761.81 594.20,761.78 594.90,761.88 595.10,761.83 595.40,761.92 595.70,761.90 595.90,761.98 596.00,761.93 596.50,761.94 596.60,761.87 597.20,761.78 598.10,761.79 598.20,761.73 598.30,761.80 598.90,761.92 599.20,761.88 599.40,761.94 600.00,761.89 600.20,761.94 600.40,761.85 600.80,761.95 601.10,761.81 601.30,761.91 601.90,761.90 602.00,761.98 602.40,762.02 602.60,761.98 602.80,762.06 603.10,761.99 603.80,762.02 604.20,761.95 604.30,762.03 604.80,761.96 605.10,762.07 605.30,761.99 605.90,762.00 606.00,761.93 606.30,761.94 606.60,762.05 607.20,761.86 607.70,762.02 608.20,761.99 608.30,761.90 609.40,761.86 609.90,761.95 610.40,762.20 610.80,762.25 610.90,762.21 611.30,762.23 611.40,762.16 611.60,762.15 612.10,761.95 612.60,762.04 613.00,761.98 613.40,762.13 613.90,762.18 614.20,762.11 614.40,762.18 614.90,762.18 615.00,762.09 615.60,761.97 615.90,762.06 616.20,761.90 616.70,761.94 616.90,762.06 617.30,762.14 617.60,762.03 617.90,762.16 618.20,762.06 618.40,762.13 619.00,761.93 619.30,761.98 619.60,761.89 619.90,761.98 620.20,761.85 621.20,762.06 621.60,762.00 621.80,762.08 622.30,762.02 622.60,762.06 622.80,762.04 622.90,761.97 623.50,761.94 623.80,761.76 624.20,761.69 624.90,761.39 625.40,761.45 626.50,761.89 626.60,761.98 627.00,761.98 627.30,762.10 627.60,761.99 628.10,762.06 628.30,762.00 628.60,762.08 629.00,762.02 630.00,762.04 630.50,761.96 630.90,762.10 631.30,762.11 631.60,762.25 632.00,762.23 632.30,762.29 632.60,762.17 632.90,762.21 633.20,762.10 634.20,762.08" fill="none" stroke="#838010" stroke-width="3.0" stroke-linejoin="round" stroke-linecap="round" />
<polyline points="141.60,470.59 142.00,472.43 142.40,470.66 142.80,470.44 143.20,468.97 143.60,470.69 144.00,473.87 144.40,472.22 144.80,473.69 145.20,471.80 145.60,472.15 146.00,471.64 146.40,467.20 146.80,473.25 147.20,472.42 147.60,472.40 148.00,467.14 148.40,467.01 148.80,469.06 149.20,470.08 149.60,471.93 150.00,471.09 150.40,472.45 150.80,469.66 151.20,471.94 151.60,472.15 152.00,469.61 152.40,475.26 152.80,472.52 153.20,474.03 153.40,469.73 153.60,469.43 154.00,470.33 154.40,470.85 154.80,472.56 155.20,471.62 155.60,469.93 156.00,468.69 156.40,469.68 156.80,473.77 157.20,468.93 157.60,471.38 158.00,471.77 158.40,467.20 158.80,470.80 159.20,473.74 159.60,465.85 160.00,469.81 160.40,470.29 160.80,468.56 161.20,471.64 161.60,470.28 162.00,466.92 162.40,472.31 162.80,471.89 163.20,472.51 163.60,473.64 164.00,471.04 164.40,470.43 164.80,467.09 165.00,471.53 165.20,468.63 165.60,468.92 166.00,466.95 166.40,467.56 166.80,468.50 167.20,472.65 167.60,464.84 168.00,466.09 168.40,469.97 168.80,472.69 169.20,470.59 169.60,464.83 170.00,464.34 170.40,469.77 170.80,467.33 170.90,466.49 171.20,470.78 171.60,470.74 172.00,468.40 172.40,468.29 172.80,468.39 173.20,470.58 173.60,468.18 174.00,467.66 174.40,467.33 174.80,462.80 175.20,468.19 175.50,467.31 175.60,466.32 176.00,460.79 176.40,462.93 176.80,465.34 177.20,459.50 177.60,462.21 178.00,463.67 178.40,459.42 178.80,463.53 179.00,461.58 179.20,459.79 179.60,459.19 180.00,458.36 180.40,456.12 180.80,455.98 181.20,452.49 181.40,452.11 181.60,452.45 182.00,448.50 182.40,444.68 182.80,444.08 183.10,442.63 183.20,439.79 183.60,436.35 184.00,435.49 184.40,433.13 184.80,430.60 184.90,432.20 185.00,428.64 185.20,430.67 185.20,427.44 185.40,427.16 185.60,428.08 185.60,428.72 185.80,427.48 186.00,425.92 186.00,425.66 186.20,424.79 186.40,424.52 186.40,423.44 186.60,423.20 186.60,423.62 186.80,423.24 186.80,424.34 187.00,424.50 187.20,427.01 187.20,424.59 187.40,423.96 187.60,424.46 187.60,424.99 187.80,427.11 188.00,425.19 188.00,426.70 188.20,430.67 188.40,421.09 188.40,423.87 188.50,427.66 188.60,428.17 188.80,427.90 188.80,425.95 189.00,429.32 189.20,428.35 189.20,425.86 189.40,434.54 189.60,428.88 189.60,425.99 189.80,427.57 190.00,427.30 190.00,427.82 190.20,421.12 190.40,426.74 190.40,431.52 190.60,424.69 190.70,428.29 190.80,431.66 190.80,431.35 191.00,433.60 191.20,423.63 191.20,427.93 191.40,428.19 191.60,431.46 191.60,432.94 191.80,422.90 192.00,433.24 192.00,425.56 192.20,432.16 192.40,426.25 192.40,430.88 192.50,433.71 192.60,430.06 192.80,430.80 192.80,432.23 193.00,430.55 193.20,429.97 193.20,433.15 193.40,431.88 193.60,429.44 193.60,433.76 193.80,427.86 194.00,431.34 194.00,429.29 194.20,429.88 194.40,430.77 194.40,429.94 194.50,430.61 194.60,426.60 194.80,427.43 194.80,429.29 195.00,427.41 195.20,426.85 195.20,426.46 195.40,428.36 195.60,427.32 195.60,427.87 195.80,425.54 195.90,426.00 196.00,423.97 196.00,425.42 196.20,423.72 196.40,419.51 196.40,421.37 196.60,418.61 196.70,416.56 196.80,414.43 196.80,415.86 197.00,412.34 197.20,409.25 197.20,409.68 197.40,406.80 197.60,404.39 197.60,403.32 197.80,401.36 198.00,398.63 198.00,398.61 198.00,397.92 198.20,391.46 198.40,385.99 198.40,385.60 198.60,379.39 198.80,373.71 198.80,373.00 198.90,369.07 199.00,367.26 199.20,361.50 199.20,362.63 199.40,357.28 199.60,351.74 199.60,352.00 199.60,352.35 199.80,348.92 200.00,346.34 200.00,345.75 200.20,343.14 200.40,340.29 200.40,340.35 200.50,337.67 200.60,336.21 200.80,330.41 200.80,330.80 201.00,325.89 201.20,322.99 201.20,321.82 201.40,317.99 201.40,317.90 201.60,313.04 201.60,312.75 201.80,308.23 202.00,304.08 202.00,303.19 202.20,298.49 202.40,293.66 202.40,293.20 202.50,290.31 202.60,293.06 202.80,298.64 202.80,297.58 203.00,302.93 203.20,308.27 203.20,308.24 203.40,313.06 203.60,318.13 203.60,318.03 203.60,317.81 203.80,324.61 204.00,331.61 204.00,331.86 204.20,338.48 204.30,341.86 204.40,351.21 204.40,351.09 204.60,369.98 204.60,369.81 204.80,374.73 204.80,374.32 205.00,379.40 205.20,383.92 205.20,383.71 205.40,388.82 205.40,388.66 205.60,390.00 205.60,390.21 205.80,392.04 206.00,393.40 206.00,394.06 206.20,395.69 206.40,397.29 206.40,397.11 206.60,399.29 206.80,400.94 206.80,400.71 207.00,399.64 207.10,403.66 207.20,404.88 207.20,403.16 207.40,404.52 207.60,408.66 207.60,404.69 207.80,408.63 208.00,412.03 208.00,408.68 208.20,411.97 208.30,414.06 208.40,412.55 208.40,413.30 208.60,415.05 208.80,414.40 208.80,415.31 209.00,417.10 209.20,419.05 209.20,418.10 209.40,419.28 209.40,418.37 209.60,418.47 209.60,420.11 209.80,418.54 210.00,416.22 210.00,416.24 210.20,421.98 210.40,419.45 210.40,418.23 210.60,410.21 210.80,417.38 210.80,416.97 211.00,420.29 211.00,416.34 211.20,414.61 211.20,416.57 211.40,407.88 211.60,418.24 211.60,415.68 211.80,411.71 212.00,419.22 212.00,421.07 212.20,408.56 212.40,411.22 212.40,414.98 212.60,414.39 212.80,411.92 212.80,409.63 213.00,421.79 213.20,417.31 213.20,408.40 213.40,407.62 213.40,419.81 213.60,417.19 213.60,420.52 213.80,416.72 214.00,410.23 214.00,414.76 214.20,405.31 214.40,411.20 214.40,413.95 214.60,416.52 214.80,411.76 214.80,414.17 215.00,416.73 215.20,416.64 215.20,417.68 215.40,416.21 215.50,414.22 215.60,418.72 215.60,415.82 215.80,412.67 216.00,413.74 216.00,416.12 216.20,415.97 216.40,417.19 216.40,416.62 216.60,417.49 216.80,416.68 216.80,412.93 217.00,418.70 217.20,420.71 217.20,418.90 217.40,417.37 217.60,419.21 217.60,415.78 217.80,414.30 217.90,418.62 218.00,416.42 218.00,419.54 218.20,415.74 218.40,413.89 218.40,415.41 218.60,417.74 218.80,415.07 218.80,414.26 219.00,414.22 219.20,414.30 219.20,414.29 219.20,414.10 219.40,412.98 219.60,410.64 219.60,410.22 219.80,408.69 219.90,408.36 220.00,405.89 220.00,405.92 220.20,400.54 220.40,396.92 220.40,397.44 220.60,392.68 220.80,389.32 220.80,389.05 220.80,389.23 221.00,385.46 221.20,383.75 221.20,383.19 221.40,379.22 221.60,376.29 221.60,377.52 221.80,372.92 222.00,370.51 222.00,370.57 222.00,370.00 222.20,365.64 222.40,362.92 222.40,363.03 222.60,359.93 222.80,356.11 222.80,355.62 223.00,352.55 223.00,352.35 223.20,349.02 223.20,348.92 223.40,345.62 223.60,343.11 223.60,341.98 223.80,339.15 223.90,338.00 224.00,336.44 224.00,337.10 224.20,334.86 224.40,334.44 224.40,335.34 224.60,334.11 224.80,332.44 224.80,332.31 225.00,330.23 225.20,331.68 225.20,330.49 225.40,329.79 225.40,328.00 225.60,330.87 225.60,329.72 225.80,333.75 226.00,336.06 226.00,334.06 226.20,337.56 226.40,340.24 226.40,338.56 226.60,340.71 226.60,341.25 226.80,344.76 226.80,344.21 227.00,348.42 227.20,351.78 227.20,352.05 227.40,355.30 227.60,359.06 227.60,358.82 227.60,357.07 227.80,359.39 228.00,360.75 228.00,360.74 228.20,363.19 228.40,365.00 228.40,365.35 228.40,363.88 228.60,362.57 228.80,361.87 228.80,361.75 229.00,360.04 229.20,358.72 229.20,358.07 229.30,358.66 229.40,357.67 229.60,355.96 229.60,355.61 229.80,354.58 230.00,352.04 230.00,352.81 230.10,352.72 230.20,352.94 230.40,355.93 230.40,355.91 230.60,357.18 230.80,359.87 230.80,359.83 230.80,360.24 231.00,364.33 231.20,367.98 231.20,367.55 231.30,369.92 231.40,372.30 231.60,377.40 231.60,377.17 231.80,381.30 232.00,385.64 232.00,386.16 232.10,388.31 232.20,389.44 232.40,392.65 232.40,392.45 232.60,395.43 232.80,398.33 232.80,397.83 233.00,401.89 233.20,403.22 233.20,403.98 233.40,406.14 233.50,408.29 233.60,406.68 233.60,407.83 233.80,410.70 234.00,413.05 234.00,414.32 234.20,414.89 234.40,417.72 234.40,417.31 234.60,419.52 234.80,421.27 234.80,420.69 235.00,423.38 235.20,423.95 235.20,426.08 235.30,425.04 235.40,427.02 235.60,430.34 235.60,428.14 235.80,429.93 236.00,432.57 236.00,431.50 236.20,432.28 236.40,434.85 236.40,435.16 236.60,436.90 236.80,436.89 236.80,439.67 237.00,441.14 237.20,440.89 237.20,441.17 237.40,441.96 237.60,445.56 237.60,443.22 237.60,444.74 237.80,444.35 238.00,444.98 238.00,446.54 238.20,448.10 238.40,447.49 238.40,446.75 238.60,449.27 238.80,449.20 238.80,449.59 239.00,452.33 239.20,452.64 239.20,450.25 239.40,455.06 239.60,452.75 239.60,453.89 239.80,452.69 240.00,454.44 240.00,451.97 240.00,457.09 240.20,456.68 240.40,453.14 240.40,452.72 240.60,452.75 240.80,457.00 240.80,454.64 241.00,455.41 241.20,455.25 241.20,455.52 241.40,453.70 241.60,456.14 241.60,453.45 241.80,456.17 242.00,457.07 242.40,457.76 242.50,456.57 242.80,455.93 243.20,458.69 243.60,458.31 244.00,462.89 244.40,462.22 244.80,461.39 245.20,461.53 245.60,461.90 246.00,462.27 246.30,463.95 246.40,465.24 246.80,466.05 247.20,466.55 247.60,470.28 248.00,464.83 248.40,466.73 248.80,471.69 249.20,463.60 249.60,466.81 250.00,468.65 250.40,469.02 250.80,469.95 251.20,469.00 251.30,470.36 251.60,469.86 252.00,471.56 252.40,466.20 252.80,468.37 253.20,470.55 253.60,468.45 254.00,468.62 254.40,472.55 254.80,469.90 255.20,472.97 255.60,473.41 256.00,472.63 256.40,473.28 256.80,472.12 257.20,469.40 257.60,472.68 258.00,473.96 258.40,471.97 258.80,473.13 258.90,475.07 259.20,471.37 259.60,474.67 260.00,477.31 260.40,471.78 260.80,473.31 261.20,472.54 261.60,476.36 262.00,473.44 262.40,474.69 262.80,470.93 263.20,472.40 263.60,472.33 264.00,468.16 264.40,475.49 264.80,474.15 265.20,467.96 265.60,473.57 266.00,471.52 266.40,472.73 266.50,472.52 266.80,468.45 267.20,471.50 267.60,475.48 268.00,471.00 268.40,470.16 268.80,469.56 269.20,470.03 269.60,473.67 270.00,476.86 270.40,474.20 270.80,473.95 271.20,478.46 271.60,472.56 272.00,472.37 272.40,475.21 272.80,475.41 273.20,472.09 273.60,471.90 274.00,475.31 274.10,475.25 274.40,471.75 274.80,474.13 275.20,473.31 275.60,475.50 276.00,474.11 276.40,474.11 276.80,473.43 277.20,476.58 277.60,477.28 278.00,473.20 278.40,475.89 278.80,472.17 279.20,473.99 279.60,475.47 280.00,477.14 280.40,472.75 280.80,473.39 281.20,473.93 281.60,470.02 281.70,473.44 282.00,471.89 282.40,474.30 282.80,470.93 283.20,468.98 283.60,473.64 284.00,474.18 284.40,472.36 284.80,475.68 285.20,473.05 285.60,472.32 286.00,474.83 286.40,470.19 286.80,472.26 287.20,473.79 287.60,475.80 288.00,473.53 288.40,474.63 288.80,472.47 289.20,474.68 289.30,477.79 289.60,472.42 290.00,478.95 290.40,472.45 290.80,473.92 291.20,474.18 291.60,475.74 291.90,471.49 292.00,469.72 292.40,474.17 292.80,473.92 293.20,472.99 293.60,475.32 294.00,471.00 294.40,470.48 294.80,471.13 294.80,470.09 295.20,471.93 295.60,465.97 296.00,467.00 296.40,463.00 296.80,468.10 297.20,465.31 297.60,467.18 297.70,469.34 298.00,465.70 298.40,465.78 298.80,465.87 299.20,465.77 299.60,466.73 300.00,469.62 300.40,469.06 300.70,469.52 300.80,469.23 301.20,471.84 301.60,471.68 302.00,471.11 302.40,473.20 302.80,472.31 303.20,471.07 303.60,476.47 303.60,474.65 304.00,472.04 304.40,475.78 304.80,474.58 305.20,470.38 305.60,477.03 306.00,474.47 306.40,475.59 306.50,474.20 306.80,473.26 307.20,470.14 307.60,474.87 308.00,472.67 308.40,471.72 308.80,472.67 309.20,471.81 309.60,472.68 310.00,470.28 310.40,470.63 310.80,466.12 310.90,469.46 311.20,471.41 311.60,472.40 312.00,468.70 312.40,468.87 312.80,471.93 313.20,467.82 313.60,469.61 314.00,471.16 314.40,467.59 314.80,469.44 315.20,465.58 315.30,467.18 315.60,467.08 316.00,468.00 316.40,470.42 316.80,472.93 317.20,468.27 317.60,469.00 318.00,471.52 318.20,468.98 318.40,472.03 318.80,472.63 319.20,471.56 319.60,473.45 320.00,470.22 320.20,474.55 320.40,470.14 320.80,471.01 321.20,470.63 321.60,470.29 322.00,471.84 322.40,469.86 322.60,468.71 322.80,469.98 323.20,471.06 323.60,467.63 324.00,467.54 324.40,468.33 324.80,465.94 324.90,463.09 325.20,469.51 325.60,470.08 326.00,463.44 326.40,467.35 326.80,468.74 327.20,470.29 327.60,470.32 327.80,468.91 328.00,467.71 328.40,470.18 328.80,472.25 329.20,468.75 329.60,469.27 329.90,471.45 330.00,467.76 330.40,470.49 330.80,469.75 331.20,471.00 331.60,468.43 332.00,467.68 332.40,468.18 332.80,468.41 332.80,467.26 333.20,468.33 333.60,469.51 334.00,470.29 334.40,471.15 334.80,466.03 335.20,466.54 335.60,462.93 335.70,470.75 336.00,465.95 336.40,467.59 336.80,468.97 337.20,465.69 337.60,469.49 338.00,468.87 338.40,465.75 338.60,469.96 338.80,471.79 339.20,466.14 339.60,471.46 340.00,470.54 340.40,471.22 340.80,471.36 341.20,473.17 341.50,470.48 341.60,472.43 342.00,469.66 342.40,471.38 342.80,468.13 343.20,469.06 343.60,472.08 344.00,469.31 344.40,467.80 344.50,465.88 344.80,466.38 345.20,468.00 345.60,469.17 346.00,468.06 346.40,468.03 346.80,466.73 347.20,469.22 347.40,465.74 347.60,465.32 348.00,467.85 348.40,466.02 348.80,465.12 349.20,464.30 349.60,464.67 350.00,465.98 350.40,465.28 350.80,462.40 351.20,464.92 351.20,464.50 351.60,463.15 352.00,466.78 352.40,465.65 352.80,466.19 353.20,468.74 353.20,469.63 353.60,466.81 354.00,469.27 354.40,467.59 354.80,473.44 355.20,469.38 355.60,472.85 356.00,470.25 356.10,472.89 356.40,475.43 356.80,468.10 357.20,471.33 357.60,473.25 358.00,472.31 358.40,471.42 358.80,477.04 359.20,473.27 359.60,470.18 360.00,475.18 360.40,470.45 360.50,476.00 360.80,472.76 361.20,474.22 361.60,476.44 362.00,474.35 362.40,471.59 362.80,471.10 363.20,476.57 363.40,475.78 363.60,472.74 364.00,475.61 364.40,474.67 364.80,474.69 365.20,469.11 365.60,472.39 366.00,474.36 366.40,473.79 366.80,473.80 367.20,467.81 367.60,471.95 367.80,472.41 368.00,475.50 368.40,469.48 368.80,470.48 369.20,470.99 369.60,472.32 370.00,469.81 370.40,472.45 370.70,468.91 370.80,470.87 371.20,469.87 371.60,471.48 372.00,470.38 372.40,469.19 372.80,474.32 373.20,473.33 373.60,472.22 373.60,473.55 374.00,475.13 374.40,471.87 374.80,473.56 375.20,474.98 375.60,475.14 376.00,473.72 376.40,470.58 376.80,477.06 377.20,475.53 377.60,475.13 378.00,474.78 378.00,475.79 378.40,474.59 378.80,473.57 379.20,474.14 379.60,474.51 380.00,474.57 380.40,473.61 380.80,477.16 381.20,473.50 381.60,477.39 382.00,474.26 382.40,476.98 382.80,479.03 383.20,476.87 383.60,475.17 384.00,476.76 384.40,477.04 384.80,473.53 385.20,475.78 385.60,477.34 386.00,476.22 386.40,477.36 386.80,478.70 386.80,478.76 387.20,479.05 387.60,478.48 388.00,476.83 388.40,477.39 388.80,476.93 389.20,476.88 389.60,477.17 390.00,474.22 390.40,476.94 390.80,477.56 391.20,475.77 391.60,477.62 392.00,478.69 392.40,477.42 392.80,481.74 393.20,473.59 393.60,477.43 394.00,474.37 394.40,479.75 394.80,482.10 395.20,473.76 395.60,478.22 396.00,478.99 396.40,477.47 396.80,479.11 397.20,473.95 397.60,479.72 398.00,478.85 398.40,478.23 398.50,477.11 398.80,479.44 399.20,477.42 399.60,478.80 400.00,477.51 400.40,474.46 400.80,478.54 401.20,479.04 401.60,480.13 402.00,477.19 402.40,478.81 402.80,480.08 403.20,479.28 403.60,481.36 404.00,482.80 404.40,477.55 404.80,475.77 405.20,480.92 405.60,482.22 406.00,481.17 406.40,481.04 406.80,478.51 407.20,478.40 407.60,481.38 408.00,478.19 408.40,476.62 408.80,478.17 409.20,484.02 409.60,483.59 410.00,478.94 410.10,478.89 410.40,480.64 410.80,478.91 411.20,482.64 411.60,480.17 412.00,478.37 412.40,482.76 412.80,479.35 413.20,480.84 413.60,480.45 414.00,479.93 414.40,481.12 414.80,479.31 415.20,477.27 415.60,476.66 416.00,478.37 416.40,479.32 416.80,480.67 417.20,480.85 417.60,481.77 418.00,481.02 418.40,479.42 418.80,479.60 419.20,477.12 419.60,480.63 420.00,481.82 420.40,481.93 420.80,480.81 421.20,480.74 421.60,482.74 421.80,481.13 422.00,482.42 422.40,482.18 422.80,481.55 423.20,483.51 423.60,480.23 424.00,480.64 424.40,479.88 424.80,479.93 425.20,484.09 425.60,484.47 426.00,481.46 426.40,482.45 426.80,483.54 427.20,482.92 427.60,483.65 428.00,479.38 428.40,480.50 428.80,482.42 429.20,484.16 429.60,481.88 430.00,480.25 430.40,481.15 430.80,480.65 431.20,480.34 431.60,484.44 432.00,480.81 432.40,481.95 432.80,485.63 433.20,484.00 433.50,482.57 433.60,480.97 434.00,482.76 434.40,484.86 434.80,483.21 435.20,484.34 435.60,482.42 436.00,483.17 436.40,482.01 436.80,483.11 437.20,484.63 437.60,480.08 438.00,482.43 438.40,482.99 438.80,481.68 439.20,482.17 439.60,484.05 440.00,486.12 440.40,483.88 440.80,483.42 441.20,480.34 441.60,486.17 442.00,483.14 442.40,483.01 442.80,481.26 443.20,483.07 443.60,481.40 444.00,483.37 444.40,484.07 444.80,483.40 445.20,483.86 445.20,482.00 445.60,485.80 446.00,482.43 446.40,480.58 446.80,483.30 447.20,482.41 447.60,482.06 448.00,483.18 448.40,484.28 448.80,481.94 449.20,483.69 449.60,486.28 450.00,485.12 450.40,483.82 450.80,484.32 451.20,483.98 451.60,484.14 452.00,485.45 452.40,484.17 452.80,480.84 453.20,484.39 453.60,483.05 454.00,485.57 454.40,483.60 454.80,484.87 455.20,488.15 455.60,483.07 456.00,483.00 456.40,482.60 456.80,481.40 456.90,481.92 457.20,485.49 457.60,483.93 458.00,482.01 458.40,482.62 458.80,485.98 459.20,483.79 459.60,484.46 460.00,485.59 460.40,487.24 460.80,488.18 461.20,486.76 461.60,485.38 462.00,485.46 462.40,488.03 462.80,487.46 463.20,484.75 463.60,485.98 464.00,485.73 464.40,485.38 464.80,484.54 465.20,483.27 465.60,484.53 466.00,482.98 466.40,487.31 466.80,486.26 467.20,483.58 467.60,487.63 468.00,486.87 468.40,482.56 468.80,488.34 469.20,486.79 469.60,488.71 470.00,483.73 470.00,486.40 470.40,486.30 470.80,486.03 471.20,486.04 471.60,487.43 472.00,483.65 472.40,484.10 472.80,483.93 473.20,485.25 473.60,485.24 474.00,486.76 474.40,486.67 474.80,486.38 475.20,485.38 475.60,485.79 476.00,487.93 476.40,487.71 476.80,486.78 477.20,486.22 477.60,489.05 478.00,485.94 478.40,487.83 478.80,488.64 479.20,486.61 479.20,488.21 479.60,485.38 480.00,488.51 480.40,487.34 480.80,484.69 481.20,488.06 481.60,485.76 482.00,489.00 482.40,486.10 482.80,486.88 483.20,487.55 483.60,486.66 484.00,487.55 484.40,486.36 484.80,488.18 485.20,487.21 485.60,487.53 486.00,484.02 486.40,488.94 486.80,487.31 487.20,484.68 487.60,487.43 488.00,487.98 488.40,488.87 488.80,485.76 489.20,489.58 489.60,487.13 490.00,490.54 490.40,487.17 490.80,488.38 491.20,486.88 491.60,485.82 492.00,489.01 492.40,488.75 492.80,489.66 493.20,488.70 493.60,486.68 494.00,485.14 494.40,486.60 494.80,486.58 495.20,486.39 495.60,488.39 496.00,488.04 496.40,487.21 496.80,487.85 497.20,487.41 497.60,487.93 498.00,488.70 498.40,489.00 498.80,486.71 499.20,485.58 499.60,489.69 500.00,487.87 500.40,489.27 500.80,485.45 501.20,487.29 501.60,487.80 502.00,485.78 502.40,487.08 502.80,488.81 503.20,489.32 503.60,490.05 504.00,486.65 504.40,485.92 504.80,488.60 505.20,489.19 505.60,488.17 506.00,486.12 506.40,489.01 506.80,489.04 507.20,488.72 507.60,487.30 508.00,488.41 508.40,489.09 508.40,487.23 508.80,485.47 509.20,488.47 509.60,488.69 510.00,488.06 510.40,489.27 510.80,487.25 511.20,487.95 511.60,487.66 512.00,488.87 512.40,490.29 512.80,487.76 513.20,490.94 513.60,490.23 514.00,489.22 514.40,488.95 514.80,490.59 515.20,487.92 515.60,488.02 516.00,486.73 516.40,488.84 516.80,490.04 517.20,488.94 517.60,488.80 518.00,487.96 518.40,488.47 518.80,486.30 519.20,489.69 519.60,487.71 520.00,486.77 520.40,487.26 520.80,487.17 521.20,489.47 521.60,489.76 522.00,486.48 522.40,489.60 522.80,489.55 523.20,487.57 523.60,486.34 524.00,487.36 524.40,487.52 524.80,488.86 525.20,487.92 525.60,485.66 526.00,488.74 526.40,486.35 526.80,489.67 527.20,486.82 527.60,487.52 528.00,487.31 528.40,487.75 528.80,490.24 529.20,489.65 529.60,489.32 530.00,488.95 530.40,486.44 530.80,487.83 531.20,487.80 531.60,487.24 532.00,489.25 532.40,487.58 532.80,487.63 533.20,487.19 533.60,485.84 534.00,489.41 534.40,490.41 534.80,488.87 535.20,487.33 535.60,485.70 536.00,488.89 536.40,490.30 536.80,489.08 537.20,489.93 537.60,490.68 537.60,490.21 538.00,488.11 538.40,490.11 538.80,489.74 539.20,486.64 539.60,488.16 540.00,486.80 540.40,488.56 540.80,489.49 541.20,487.28 541.60,485.96 542.00,490.45 542.40,489.22 542.80,490.68 543.20,486.95 543.60,490.14 544.00,491.49 544.40,491.40 544.80,488.44 545.20,489.08 545.60,488.52 546.00,490.06 546.40,490.11 546.80,488.85 547.20,486.93 547.60,489.72 548.00,488.11 548.40,489.57 548.80,489.09 549.20,490.89 549.60,490.25 550.00,488.14 550.40,489.21 550.80,491.08 551.20,488.04 551.60,489.32 552.00,490.32 552.40,490.41 552.80,489.44 553.20,487.01 553.60,487.09 554.00,489.08 554.40,489.27 554.80,491.66 555.20,487.63 555.60,490.26 556.00,489.78 556.40,486.57 556.80,487.69 557.20,488.99 557.60,488.12 558.00,488.57 558.40,489.39 558.80,487.71 559.20,489.39 559.60,487.94 560.00,488.06 560.40,489.48 560.80,488.03 561.20,489.16 561.60,490.87 562.00,488.82 562.40,488.59 562.80,489.75 563.20,488.31 563.60,490.20 564.00,487.12 564.40,489.60 564.80,488.13 565.20,487.75 565.60,491.10 566.00,487.69 566.40,491.08 566.80,489.65 566.80,490.68 567.20,487.54 567.60,490.37 568.00,490.71 568.40,488.69 568.80,488.68 569.20,491.70 569.60,489.10 570.00,488.33 570.40,488.07 570.80,489.47 571.20,489.33 571.60,489.14 572.00,491.14 572.40,488.51 572.80,489.55 573.20,490.83 573.60,487.67 574.00,490.31 574.40,491.34 574.80,487.25 575.20,487.59 575.60,487.68 576.00,486.65 576.40,489.61 576.80,486.66 577.20,489.69 577.60,490.92 578.00,487.00 578.40,488.67 578.80,486.64 579.20,490.09 579.60,488.16 580.00,488.78 580.40,489.20 580.80,489.83 581.20,488.70 581.60,489.17 582.00,488.47 582.40,489.32 582.80,487.69 583.20,489.27 583.60,486.75 584.00,488.59 584.40,491.66 584.80,489.33 585.20,487.64 585.60,489.58 586.00,488.03 586.40,487.18 586.80,488.35 587.20,490.22 587.60,489.78 588.00,489.19 588.40,488.15 588.80,487.96 589.20,491.04 589.60,489.66 590.00,488.15 590.40,486.70 590.80,487.65 591.20,492.16 591.60,487.95 592.00,489.31 592.40,489.68 592.80,489.23 593.20,489.08 593.60,487.72 594.00,488.13 594.40,491.58 594.80,488.53 595.20,490.54 595.60,487.37 596.00,489.16 596.00,489.83 596.40,490.81 596.80,488.13 597.20,490.29 597.60,490.05 598.00,488.66 598.40,490.19 598.80,488.50 599.20,488.64 599.60,489.62 600.00,486.93 600.40,489.54 600.80,488.45 601.20,487.90 601.60,489.20 602.00,490.69 602.40,489.26 602.80,491.35 603.20,488.36 603.60,488.19 604.00,491.75 604.40,490.34 604.80,491.03 605.20,488.86 605.60,490.89 606.00,490.23 606.40,490.73 606.80,489.98 607.20,491.45 607.60,489.18 608.00,488.81 608.40,488.19 608.80,491.45 609.20,489.13 609.60,488.78 610.00,488.92 610.40,489.54 610.80,488.55 611.20,489.77 611.60,489.37 612.00,489.48 612.40,489.00 612.80,490.24 613.20,489.64 613.60,490.36 614.00,490.54 614.40,490.67 614.80,487.60 615.20,489.63 615.60,489.33 616.00,491.27 616.40,488.41 616.80,489.48 617.20,490.01 617.60,489.98 618.00,491.61 618.40,489.88 618.80,491.61 619.20,488.67 619.60,488.27 620.00,491.97 620.40,491.03 620.80,491.11 621.20,490.69 621.60,491.14 622.00,489.10 622.40,491.73 622.80,489.96 623.20,491.81 623.60,490.74 624.00,488.28 624.40,489.12 624.80,492.04 625.20,490.54 625.20,490.23 625.60,491.02 626.00,490.26 626.40,490.15 626.80,490.96 627.20,491.04 627.60,492.71 628.00,490.99 628.40,493.21 628.80,493.15 629.20,493.08 629.60,492.33 630.00,491.26 630.40,491.30 630.80,491.00 631.20,490.33 631.60,491.15 632.00,490.50 632.40,493.25 632.80,491.97 633.20,490.84 633.60,489.13 634.00,491.37" fill="none" stroke="#f00a88" stroke-width="3.5" stroke-linejoin="round" stroke-linecap="round" />
<g stroke="#000000" fill="none" stroke-linecap="butt">
<rect x="95.0" y="3.6" width="585.6" height="788.0" stroke-width="3.0"/>
<line x1="95.0" y1="266.6" x2="680.6" y2="266.6" stroke-width="2.6"/>
<line x1="95.0" y1="529.2" x2="680.6" y2="529.2" stroke-width="2.6"/>
<line x1="110.20" y1="791.6" x2="110.20" y2="780.10" stroke-width="2.9"/>
<line x1="141.05" y1="791.6" x2="141.05" y2="780.10" stroke-width="2.9"/>
<line x1="171.90" y1="791.6" x2="171.90" y2="780.10" stroke-width="2.9"/>
<line x1="202.75" y1="791.6" x2="202.75" y2="780.10" stroke-width="2.9"/>
<line x1="233.60" y1="791.6" x2="233.60" y2="780.10" stroke-width="2.9"/>
<line x1="264.45" y1="791.6" x2="264.45" y2="780.10" stroke-width="2.9"/>
<line x1="295.30" y1="791.6" x2="295.30" y2="780.10" stroke-width="2.9"/>
<line x1="326.15" y1="791.6" x2="326.15" y2="780.10" stroke-width="2.9"/>
<line x1="357.00" y1="791.6" x2="357.00" y2="780.10" stroke-width="2.9"/>
<line x1="387.85" y1="791.6" x2="387.85" y2="780.10" stroke-width="2.9"/>
<line x1="418.70" y1="791.6" x2="418.70" y2="780.10" stroke-width="2.9"/>
<line x1="449.55" y1="791.6" x2="449.55" y2="780.10" stroke-width="2.9"/>
<line x1="480.40" y1="791.6" x2="480.40" y2="780.10" stroke-width="2.9"/>
<line x1="511.25" y1="791.6" x2="511.25" y2="780.10" stroke-width="2.9"/>
<line x1="542.10" y1="791.6" x2="542.10" y2="780.10" stroke-width="2.9"/>
<line x1="572.95" y1="791.6" x2="572.95" y2="780.10" stroke-width="2.9"/>
<line x1="603.80" y1="791.6" x2="603.80" y2="780.10" stroke-width="2.9"/>
<line x1="634.65" y1="791.6" x2="634.65" y2="780.10" stroke-width="2.9"/>
<line x1="665.50" y1="791.6" x2="665.50" y2="780.10" stroke-width="2.9"/>
<line x1="125.62" y1="791.6" x2="125.62" y2="785.30" stroke-width="2.9"/>
<line x1="156.47" y1="791.6" x2="156.47" y2="785.30" stroke-width="2.9"/>
<line x1="187.32" y1="791.6" x2="187.32" y2="785.30" stroke-width="2.9"/>
<line x1="218.18" y1="791.6" x2="218.18" y2="785.30" stroke-width="2.9"/>
<line x1="249.02" y1="791.6" x2="249.02" y2="785.30" stroke-width="2.9"/>
<line x1="279.88" y1="791.6" x2="279.88" y2="785.30" stroke-width="2.9"/>
<line x1="310.73" y1="791.6" x2="310.73" y2="785.30" stroke-width="2.9"/>
<line x1="341.57" y1="791.6" x2="341.57" y2="785.30" stroke-width="2.9"/>
<line x1="372.43" y1="791.6" x2="372.43" y2="785.30" stroke-width="2.9"/>
<line x1="403.27" y1="791.6" x2="403.27" y2="785.30" stroke-width="2.9"/>
<line x1="434.12" y1="791.6" x2="434.12" y2="785.30" stroke-width="2.9"/>
<line x1="464.97" y1="791.6" x2="464.97" y2="785.30" stroke-width="2.9"/>
<line x1="495.82" y1="791.6" x2="495.82" y2="785.30" stroke-width="2.9"/>
<line x1="526.68" y1="791.6" x2="526.68" y2="785.30" stroke-width="2.9"/>
<line x1="557.52" y1="791.6" x2="557.52" y2="785.30" stroke-width="2.9"/>
<line x1="588.38" y1="791.6" x2="588.38" y2="785.30" stroke-width="2.9"/>
<line x1="619.23" y1="791.6" x2="619.23" y2="785.30" stroke-width="2.9"/>
<line x1="650.08" y1="791.6" x2="650.08" y2="785.30" stroke-width="2.9"/>
<line x1="95.0" y1="237.30" x2="106.50" y2="237.30" stroke-width="2.6"/>
<line x1="95.0" y1="204.15" x2="101.30" y2="204.15" stroke-width="2.6"/>
<line x1="95.0" y1="171.00" x2="106.50" y2="171.00" stroke-width="2.6"/>
<line x1="95.0" y1="137.85" x2="101.30" y2="137.85" stroke-width="2.6"/>
<line x1="95.0" y1="104.70" x2="106.50" y2="104.70" stroke-width="2.6"/>
<line x1="95.0" y1="71.55" x2="101.30" y2="71.55" stroke-width="2.6"/>
<line x1="95.0" y1="38.40" x2="106.50" y2="38.40" stroke-width="2.6"/>
<line x1="95.0" y1="5.25" x2="101.30" y2="5.25" stroke-width="2.6"/>
<line x1="95.0" y1="500.50" x2="106.50" y2="500.50" stroke-width="2.6"/>
<line x1="95.0" y1="467.57" x2="101.30" y2="467.57" stroke-width="2.6"/>
<line x1="95.0" y1="434.65" x2="106.50" y2="434.65" stroke-width="2.6"/>
<line x1="95.0" y1="401.73" x2="101.30" y2="401.73" stroke-width="2.6"/>
<line x1="95.0" y1="368.80" x2="106.50" y2="368.80" stroke-width="2.6"/>
<line x1="95.0" y1="335.88" x2="101.30" y2="335.88" stroke-width="2.6"/>
<line x1="95.0" y1="302.95" x2="106.50" y2="302.95" stroke-width="2.6"/>
<line x1="95.0" y1="270.03" x2="101.30" y2="270.03" stroke-width="2.6"/>
<line x1="95.0" y1="763.00" x2="106.50" y2="763.00" stroke-width="2.6"/>
<line x1="95.0" y1="730.08" x2="101.30" y2="730.08" stroke-width="2.6"/>
<line x1="95.0" y1="697.15" x2="106.50" y2="697.15" stroke-width="2.6"/>
<line x1="95.0" y1="664.23" x2="101.30" y2="664.23" stroke-width="2.6"/>
<line x1="95.0" y1="631.30" x2="106.50" y2="631.30" stroke-width="2.6"/>
<line x1="95.0" y1="598.38" x2="101.30" y2="598.38" stroke-width="2.6"/>
<line x1="95.0" y1="565.45" x2="106.50" y2="565.45" stroke-width="2.6"/>
<line x1="95.0" y1="532.53" x2="101.30" y2="532.53" stroke-width="2.6"/>
</g>
<g font-family="'Liberation Sans', Arial, Helvetica, sans-serif" font-weight="bold" fill="#000000" stroke="#000000" stroke-width="0.35" stroke-linejoin="round">
<text transform="translate(110.70,819.20) scale(1,1.12)" font-size="20.2" text-anchor="middle">5</text>
<text transform="translate(141.55,819.20) scale(1,1.12)" font-size="20.2" text-anchor="middle">10</text>
<text transform="translate(172.40,819.20) scale(1,1.12)" font-size="20.2" text-anchor="middle">15</text>
<text transform="translate(203.25,819.20) scale(1,1.12)" font-size="20.2" text-anchor="middle">20</text>
<text transform="translate(234.10,819.20) scale(1,1.12)" font-size="20.2" text-anchor="middle">25</text>
<text transform="translate(264.95,819.20) scale(1,1.12)" font-size="20.2" text-anchor="middle">30</text>
<text transform="translate(295.80,819.20) scale(1,1.12)" font-size="20.2" text-anchor="middle">35</text>
<text transform="translate(326.65,819.20) scale(1,1.12)" font-size="20.2" text-anchor="middle">40</text>
<text transform="translate(357.50,819.20) scale(1,1.12)" font-size="20.2" text-anchor="middle">45</text>
<text transform="translate(388.35,819.20) scale(1,1.12)" font-size="20.2" text-anchor="middle">50</text>
<text transform="translate(419.20,819.20) scale(1,1.12)" font-size="20.2" text-anchor="middle">55</text>
<text transform="translate(450.05,819.20) scale(1,1.12)" font-size="20.2" text-anchor="middle">60</text>
<text transform="translate(480.90,819.20) scale(1,1.12)" font-size="20.2" text-anchor="middle">65</text>
<text transform="translate(511.75,819.20) scale(1,1.12)" font-size="20.2" text-anchor="middle">70</text>
<text transform="translate(542.60,819.20) scale(1,1.12)" font-size="20.2" text-anchor="middle">75</text>
<text transform="translate(573.45,819.20) scale(1,1.12)" font-size="20.2" text-anchor="middle">80</text>
<text transform="translate(604.30,819.20) scale(1,1.12)" font-size="20.2" text-anchor="middle">85</text>
<text transform="translate(635.15,819.20) scale(1,1.12)" font-size="20.2" text-anchor="middle">90</text>
<text transform="translate(666.00,819.20) scale(1,1.12)" font-size="20.2" text-anchor="middle">95</text>
<text transform="translate(83.20,243.00) scale(1,1.12)" font-size="20.2" text-anchor="end">0</text>
<text transform="translate(83.20,176.70) scale(1,1.12)" font-size="20.2" text-anchor="end">5900</text>
<text transform="translate(83.20,110.40) scale(1,1.12)" font-size="20.2" text-anchor="end">11800</text>
<text transform="translate(83.20,44.10) scale(1,1.12)" font-size="20.2" text-anchor="end">17700</text>
<text transform="translate(83.20,506.20) scale(1,1.12)" font-size="20.2" text-anchor="end">0</text>
<text transform="translate(83.20,440.35) scale(1,1.12)" font-size="20.2" text-anchor="end">640</text>
<text transform="translate(83.20,374.50) scale(1,1.12)" font-size="20.2" text-anchor="end">1280</text>
<text transform="translate(83.20,308.65) scale(1,1.12)" font-size="20.2" text-anchor="end">1920</text>
<text transform="translate(83.20,768.70) scale(1,1.12)" font-size="20.2" text-anchor="end">0</text>
<text transform="translate(83.20,702.85) scale(1,1.12)" font-size="20.2" text-anchor="end">6300</text>
<text transform="translate(83.20,637.00) scale(1,1.12)" font-size="20.2" text-anchor="end">12600</text>
<text transform="translate(83.20,571.15) scale(1,1.12)" font-size="20.2" text-anchor="end">18900</text>
<text transform="translate(24.50,406.50) rotate(-90) scale(1,1.0)" font-size="26" text-anchor="middle">Intensity (a.u)</text>
<text transform="translate(326.00,862.00) scale(1,1.07)" font-size="25.2" text-anchor="start">2 <tspan font-family="'Liberation Serif', 'Times New Roman', serif" font-weight="normal" stroke-width="0.2">θ</tspan><tspan dx="0.8"> degree</tspan></text>
<rect x="513.5" y="17.7" width="152.0" height="31.900000000000002" fill="#ffffff" stroke="#222" stroke-width="1"/>
<line x1="523.5" y1="35.0" x2="583.2" y2="35.0" stroke="#6e0cdc" stroke-width="3"/>
<text transform="translate(590.00,43.80) scale(1,1.08)" font-size="25.3" text-anchor="start">PSCU</text>
<rect x="437.5" y="282.8" width="230.0" height="31.399999999999977" fill="#ffffff" stroke="#222" stroke-width="1"/>
<line x1="446.4" y1="299.5" x2="506.6" y2="299.5" stroke="#f00a88" stroke-width="3"/>
<text transform="translate(513.00,308.30) scale(1,1.08)" font-size="25.3" text-anchor="start">Palm stearin</text>
<rect x="525.3" y="543.3" width="136.60000000000002" height="32.200000000000045" fill="#ffffff" stroke="#222" stroke-width="1"/>
<line x1="533.5" y1="560.3" x2="593.8" y2="560.3" stroke="#838010" stroke-width="3"/>
<text transform="translate(600.60,569.80) scale(1,1.08)" font-size="25.3" text-anchor="start">Urea</text>
</g>
</svg>
</body></html>
